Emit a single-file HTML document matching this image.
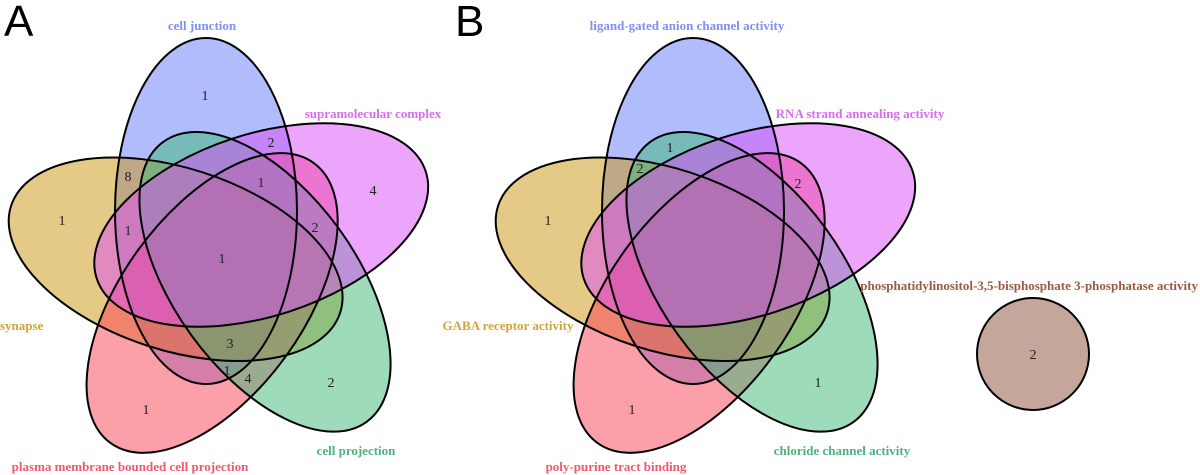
<!DOCTYPE html>
<html><head><meta charset="utf-8"><style>
html,body{margin:0;padding:0;background:#fff;}
svg{display:block;}
.lb{font-family:"Liberation Serif",serif;font-weight:bold;font-size:13px;}
.n{font-family:"Liberation Serif",serif;font-size:14px;fill:#222;text-anchor:middle;}
.L{font-family:"Liberation Sans",sans-serif;font-size:44px;}
</style></head><body>
<svg width="1200" height="475" viewBox="0 0 1200 475" xmlns="http://www.w3.org/2000/svg">
<defs>
<g id="venn">
  <g stroke="none">
  <ellipse cx="0" cy="0" rx="91" ry="173" fill="rgb(97,121,249)" fill-opacity="0.5" transform="translate(224,256) rotate(0) translate(-18,-45)"/>
  <ellipse cx="0" cy="0" rx="91" ry="173" fill="rgb(203,147,15)" fill-opacity="0.5" transform="translate(224,256) rotate(288) translate(-18,-45)"/>
  <ellipse cx="0" cy="0" rx="91" ry="173" fill="rgb(247,63,83)" fill-opacity="0.5" transform="translate(224,256) rotate(216) translate(-18,-45)"/>
  <ellipse cx="0" cy="0" rx="91" ry="173" fill="rgb(59,183,117)" fill-opacity="0.5" transform="translate(224,256) rotate(144) translate(-18,-45)"/>
  <ellipse cx="0" cy="0" rx="91" ry="173" fill="rgb(219,75,247)" fill-opacity="0.5" transform="translate(224,256) rotate(72) translate(-18,-45)"/>
  </g>
  <g fill="none" stroke="#000" stroke-width="2">
  <ellipse cx="0" cy="0" rx="91" ry="173" transform="translate(224,256) rotate(0) translate(-18,-45)"/>
  <ellipse cx="0" cy="0" rx="91" ry="173" transform="translate(224,256) rotate(72) translate(-18,-45)"/>
  <ellipse cx="0" cy="0" rx="91" ry="173" transform="translate(224,256) rotate(144) translate(-18,-45)"/>
  <ellipse cx="0" cy="0" rx="91" ry="173" transform="translate(224,256) rotate(216) translate(-18,-45)"/>
  <ellipse cx="0" cy="0" rx="91" ry="173" transform="translate(224,256) rotate(288) translate(-18,-45)"/>
  </g>
</g>
</defs>
<use href="#venn"/>
<use href="#venn" transform="translate(487,0)"/>

<text class="L" x="4" y="36">A</text>
<text class="L" x="455" y="36">B</text>

<text class="lb" x="202" y="30" text-anchor="middle" fill="#7f8ff5">cell junction</text>
<text class="lb" x="373" y="118" text-anchor="middle" fill="#d76cf0">supramolecular complex</text>
<text class="lb" x="0" y="330" fill="#d1a43a">synapse</text>
<text class="lb" x="130" y="471" text-anchor="middle" fill="#f0586c">plasma membrane bounded cell projection</text>
<text class="lb" x="356" y="455" text-anchor="middle" fill="#4fb07d">cell projection</text>

<g class="n">
<text x="205" y="100">1</text><text x="271" y="147">2</text><text x="128" y="181">8</text>
<text x="261" y="187">1</text><text x="373" y="195">4</text><text x="62" y="225">1</text>
<text x="128" y="235">1</text><text x="315" y="232">2</text><text x="222" y="263">1</text>
<text x="230" y="348">3</text><text x="227" y="375">1</text><text x="248" y="383">4</text>
<text x="331" y="387">2</text><text x="146" y="414">1</text>
</g>

<text class="lb" x="687" y="30" text-anchor="middle" fill="#7f8ff5">ligand-gated anion channel activity</text>
<text class="lb" x="860" y="118" text-anchor="middle" fill="#d76cf0">RNA strand annealing activity</text>
<text class="lb" x="508" y="330" text-anchor="middle" fill="#d1a43a">GABA receptor activity</text>
<text class="lb" x="616" y="471" text-anchor="middle" fill="#f0586c">poly-purine tract binding</text>
<text class="lb" x="842" y="455" text-anchor="middle" fill="#4fb07d">chloride channel activity</text>
<text class="lb" x="1198" y="290" text-anchor="end" fill="#9c5a45">phosphatidylinositol-3,5-bisphosphate 3-phosphatase activity</text>

<circle cx="1033" cy="354" r="56" fill="rgb(196,166,155)" stroke="#000" stroke-width="2"/>

<g class="n">
<text x="670" y="152">1</text><text x="640" y="173">2</text><text x="798" y="188">2</text>
<text x="548" y="225">1</text><text x="818" y="387">1</text><text x="632" y="414">1</text>
<text x="1033" y="359">2</text>
</g>
</svg>
</body></html>
